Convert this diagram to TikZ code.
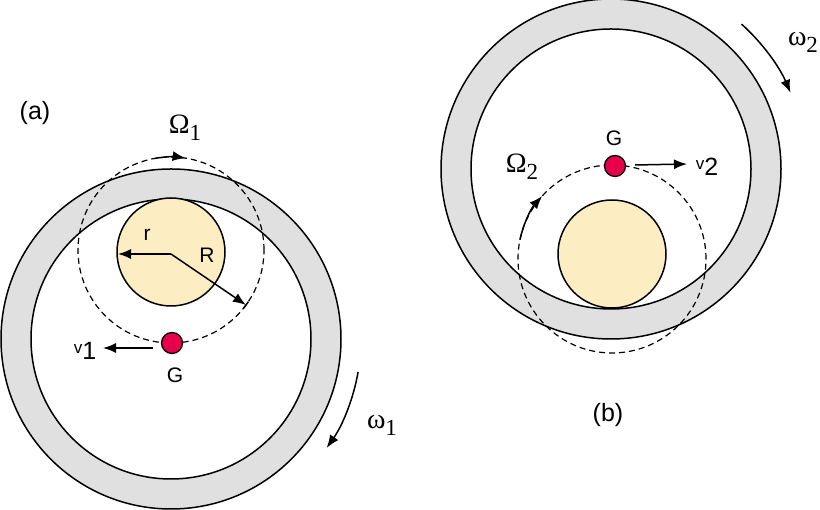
\documentclass[tikz,border=0pt]{standalone}
\usepackage{fontspec}
\setmainfont{Liberation Sans}
\newfontfamily\grk{Liberation Serif}
\usetikzlibrary{arrows.meta}
\definecolor{ringgray}{HTML}{E0E0E0}
\definecolor{disk}{HTML}{FDEDC2}
\definecolor{dotred}{HTML}{E6004C}
\begin{document}
\begin{tikzpicture}[x=1pt,y=1pt,line width=1.5pt,
  arr/.style={-{Latex[length=13pt,width=10pt]}},
  lbl/.style={inner sep=0pt,font=\fontsize{21}{21}\selectfont},
  glbl/.style={inner sep=0pt,font=\fontsize{28}{28}\grk},
  dsh/.style={dash pattern=on 6pt off 4pt,line width=1.2pt},
  dotc/.style={circle,draw,fill=dotred,minimum size=21pt,inner sep=0pt,line width=1.3pt}]
\useasboundingbox (0,0) rectangle (820,510);
% ---- (a)
\coordinate (A) at (171,171);
\fill[ringgray,even odd rule] (A) circle (170) (A) circle (140);
\draw (A) circle (170) (A) circle (140);
\node[circle,draw,fill=disk,minimum size=108pt,inner sep=0pt,line width=1.5pt] (ya) at (171,258) {};
\coordinate (Ca) at (171,260);
\draw[dsh] (Ca) circle (93);
\coordinate (ac) at (171,256);
\coordinate (ar) at (118,256);
\draw[arr] (ac) -- (ar);
\draw[arr] (ac) -- (246,205) coordinate (aRe);
\draw (aRe) ++(54:4) -- ++(234:8);
\node[lbl] (lr) at (147,275) {r};
\node[lbl] (lR) at (207,255) {R};
\node[dotc] (Ga) at (172,167) {};
\node[lbl] (lGa) at (175,135) {G};
\coordinate (v1e) at (103,162);
\draw[arr] (Ga.west) ++(-8,-5) coordinate (v1s) -- (v1e);
\node[lbl,anchor=east] (lv1) at (97,159) {\raisebox{6pt}{\fontsize{17}{17}\selectfont v}\fontsize{25}{25}\selectfont 1};
\draw[arr] (Ca) ++(100:93) arc (100:81:93);
\node[glbl] (lO1) at (185,382) {Ω\raisebox{-7pt}{\fontsize{23}{23}\selectfont 1}};
\draw[arr] (A) ++(-10:190) arc (-10:-35:190);
\node[glbl] (lw1) at (382,85) {ω\raisebox{-7pt}{\fontsize{23}{23}\selectfont 1}};
\node[lbl,font=\fontsize{25}{25}\selectfont] (la) at (35,397) {(a)};
% ---- (b)
\coordinate (B) at (611,341);
\fill[ringgray,even odd rule] (B) circle (170) (B) circle (140);
\draw (B) circle (170) (B) circle (140);
\node[circle,draw,fill=disk,minimum size=108pt,inner sep=0pt,line width=1.5pt] (yb) at (612,256) {};
\coordinate (Cb) at (612,251);
\draw[dsh] (Cb) circle (94);
\node[dotc] (Gb) at (615,344) {};
\node[lbl] (lGb) at (614,372) {G};
\coordinate (v2e) at (687,346);
\draw[arr] (Gb.east) ++(9,1) -- (v2e);
\node[lbl,anchor=west] (lv2) at (695,343) {\raisebox{6pt}{\fontsize{17}{17}\selectfont v}\fontsize{25}{25}\selectfont 2};
\draw[arr] (Cb) ++(168:94) arc (168:138:94);
\node[glbl] (lO2) at (522,343) {Ω\raisebox{-7pt}{\fontsize{23}{23}\selectfont 2}};
\draw[arr] (B) ++(48:195) arc (48:23:195);
\node[glbl] (lw2) at (803,468) {ω\raisebox{-7pt}{\fontsize{23}{23}\selectfont 2}};
\node[lbl,font=\fontsize{25}{25}\selectfont] (lb) at (608,95) {(b)};
\end{tikzpicture}
\end{document}
